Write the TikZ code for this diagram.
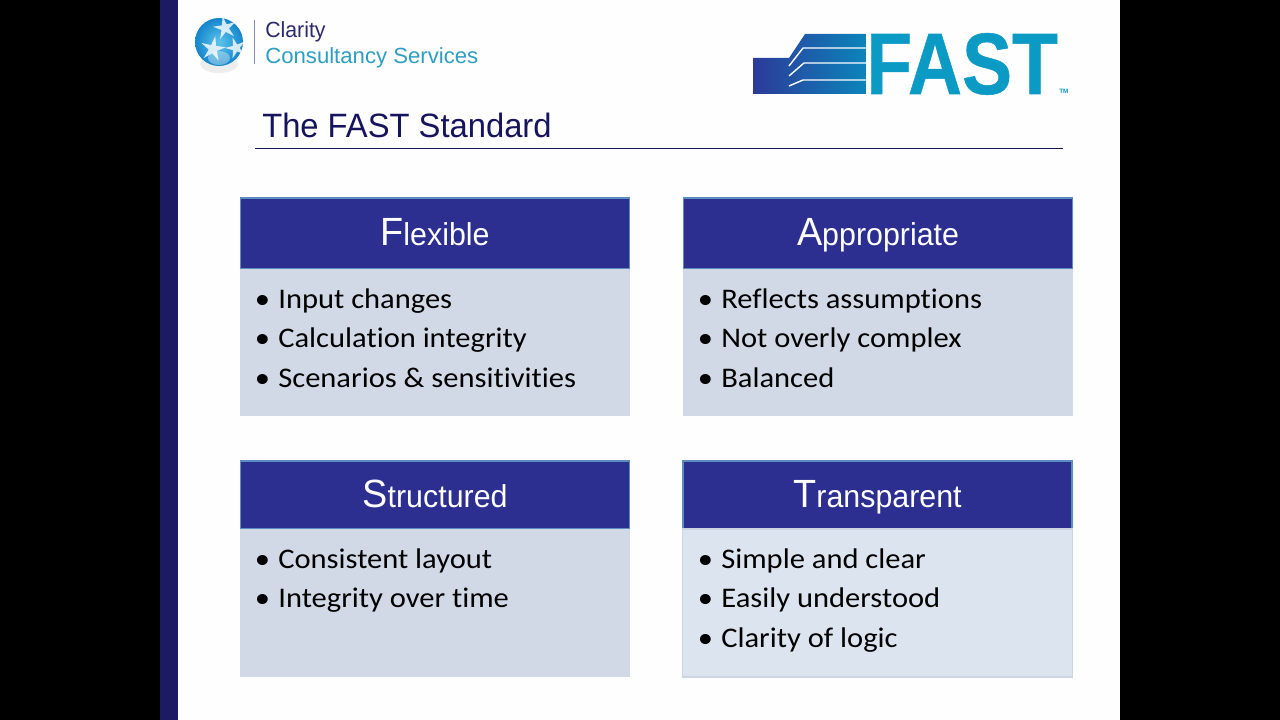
\documentclass[tikz,border=0pt]{standalone}
\usepackage{fontspec}
\setmainfont{Liberation Sans}
\newfontfamily\bodyfont[Ligatures=NoCommon]{Carlito}
\newfontfamily\fastfont[FakeBold=0.6]{Liberation Sans Bold}
\usetikzlibrary{positioning}
\usetikzlibrary{shapes.geometric}
\definecolor{slidewhite}{HTML}{FEFEFE}
\definecolor{slidenavy}{HTML}{1C1A63}
\definecolor{titlenavy}{HTML}{15145C}
\definecolor{headblue}{HTML}{2C2F90}
\definecolor{headedge}{HTML}{5C8CC0}
\definecolor{bodyblue}{HTML}{D1D9E7}
\definecolor{bodypale}{HTML}{DBE4EF}
\definecolor{bodyrim}{HTML}{CCD6E3}
\definecolor{fastteal}{HTML}{0A9AC4}
\definecolor{fastleft}{HTML}{2C3A98}
\definecolor{fastmid}{HTML}{155FA8}
\definecolor{fastright}{HTML}{0C84BC}
\definecolor{claritynavy}{HTML}{2A2A6E}
\definecolor{clarityteal}{HTML}{2E9EC2}
\definecolor{claritybar}{HTML}{8A88B8}
\definecolor{globeedge}{HTML}{1585CC}
\definecolor{globeglow}{HTML}{5CC4EC}
\newlength{\pxu}
\setlength{\pxu}{0.025cm}
\newcommand{\bigsmall}[2]% large first letter, the rest
{\scalebox{0.96}[1]{{\fontsize{28pt}{28pt}\selectfont #1}{\fontsize{22.5pt}{28pt}\selectfont #2}}%
}
\newcommand{\bulletitem}[1]% text after the bullet
{\makebox[21.9\pxu][l]{•}#1%
}
\tikzset{
	headbox/.style={fill=headblue,draw=headedge,line width=1.5\pxu,text=white,minimum width=389\pxu,text height=30\pxu,text depth=5.6\pxu,inner sep=0pt,outer sep=0pt},
	bodybox/.style={fill=#1,minimum width=390\pxu,inner sep=0pt,outer sep=0pt},
	itemtext/.style={anchor=base west,inner sep=0pt,font=\bodyfont\fontsize{20.2pt}{24pt}\selectfont,text=black,xscale=1.075},
	swooshline/.style={draw=white,line width=1.4\pxu},
	starshape/.style={star,star points=5,star point ratio=3,fill=white,opacity=0.8,inner sep=0pt}
}

\begin{document}
\begin{tikzpicture}[x=\pxu,y=-\pxu]
	\fill[black] (0,0) rectangle (1280,720);
	\fill[slidewhite] (160,0) rectangle (1120,720);
	\fill[slidenavy] (160,0) rectangle (178,720);
	\useasboundingbox (0,0) rectangle (1280,720);
	% clarity logo
	\fill[black!7] (219,64) ellipse (19 and 9);
	\shade[inner color=globeglow,outer color=globeedge] (219,42) circle (24);
	\fill[white,opacity=0.35] (219,58) ellipse (11 and 7);
	\node[starshape,minimum size=24\pxu,rotate=12] (starone) at (225,28) {};
	\node[starshape,minimum size=26\pxu,rotate=-10] (startwo) at (213,49) {};
	\node[starshape,minimum size=22\pxu,rotate=18] (starthree) at (236,48) {};
	\draw[claritybar,line width=1.2\pxu] (254.7,20) -- (254.7,64);
	\node[anchor=base west,inner sep=0pt,text=claritynavy,font=\fontsize{15.6pt}{18pt}\selectfont,xscale=0.97] (clarity) at (265,38) {Clarity};
	\node[anchor=base west,inner sep=0pt,text=clarityteal,font=\fontsize{15.6pt}{18pt}\selectfont,xscale=1.01] (services) at (265,63.5) {Consultancy Services};
	% fast logo
	\shade[left color=fastleft,middle color=fastmid,right color=fastright] (753,58) -- (789,58) -- (805,34) -- (866,34) -- (866,94) -- (753,94) -- cycle;
	\draw[swooshline] (789,66) -- (803,48) -- (866,48);
	\draw[swooshline] (789,76) -- (804,63) -- (866,63);
	\draw[swooshline] (789,86) -- (803,80) -- (866,80);
	\node[anchor=base west,inner sep=0pt,text=fastteal,font=\fastfont\fontsize{62pt}{62pt}\selectfont,xscale=0.86] (fast) at (866,94) {FAST};
	\node[anchor=base west,inner sep=0pt,text=fastteal,font=\bfseries\fontsize{4.5pt}{5pt}\selectfont] (trademark) at (1059,94) {TM};
	% title
	\node[anchor=base west,inner sep=0pt,text=titlenavy,font=\fontsize{24pt}{28pt}\selectfont,xscale=0.97] (title) at (262,138) {The FAST Standard};
	\draw[titlenavy,line width=1.2\pxu] (255,148.5) -- (1063,148.5);
	% flexible
	\node[headbox,minimum height=71\pxu] (flexhead) at (435,233.5) {\bigsmall{F}{lexible}};
	\node[bodybox=bodyblue,minimum height=147\pxu,below=0pt of flexhead] (flexbody) {};
	\node[itemtext] (flexa) at (254.5,308.5) {\bulletitem{Input changes}};
	\node[itemtext] (flexb) at (254.5,347.8) {\bulletitem{Calculation integrity}};
	\node[itemtext] (flexc) at (254.5,387.2) {\bulletitem{Scenarios \& sensitivities}};
	% appropriate
	\node[headbox,minimum height=71\pxu] (apphead) at (878,233.5) {\bigsmall{A}{ppropriate}};
	\node[bodybox=bodyblue,minimum height=147\pxu,below=0pt of apphead] (appbody) {};
	\node[itemtext] (appa) at (697.5,308.5) {\bulletitem{Reflects assumptions}};
	\node[itemtext] (appb) at (697.5,347.8) {\bulletitem{Not overly complex}};
	\node[itemtext] (appc) at (697.5,387.2) {\bulletitem{Balanced}};
	% structured
	\node[headbox,minimum height=68\pxu] (struhead) at (435,495) {\bigsmall{S}{tructured}};
	\node[bodybox=bodyblue,minimum height=148\pxu,below=0pt of struhead] (strubody) {};
	\node[itemtext] (strua) at (254.5,568.5) {\bulletitem{Consistent layout}};
	\node[itemtext] (strub) at (254.5,607.5) {\bulletitem{Integrity over time}};
	% transparent
	\node[headbox,minimum height=68\pxu] (tranhead) at (877.5,495) {\bigsmall{T}{ransparent}};
	\node[bodybox=bodypale,draw=bodyrim,line width=1.5\pxu,minimum height=148\pxu,below=0pt of tranhead] (tranbody) {};
	\node[itemtext] (trana) at (697.5,568.5) {\bulletitem{Simple and clear}};
	\node[itemtext] (tranb) at (697.5,607.5) {\bulletitem{Easily understood}};
	\node[itemtext] (tranc) at (697.5,647.2) {\bulletitem{Clarity of logic}};
\end{tikzpicture}
\end{document}
